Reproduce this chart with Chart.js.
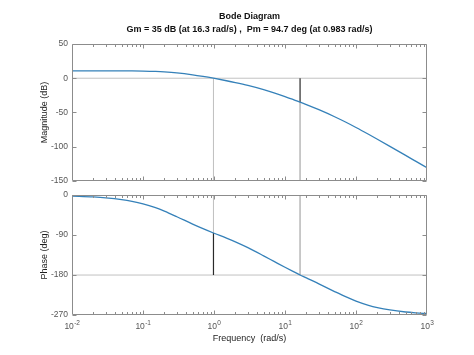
<!DOCTYPE html>
<html><head><meta charset="utf-8">
<script src="https://cdn.jsdelivr.net/npm/chart.js@4.4.1/dist/chart.umd.min.js"></script>
<style>
html,body{margin:0;padding:0;background:#fff;}
#wrap{position:relative;width:474px;height:355px;overflow:hidden;background:#fff;}
canvas{position:absolute;left:0;}
#c1{top:0;}
#c2{top:186px;}
</style></head><body>
<div id="wrap">
<canvas id="c1" width="474" height="190"></canvas>
<canvas id="c2" width="474" height="169"></canvas>
</div>
<script>
// ---- data ----
const freqs = [0.01,0.02,0.03,0.05,0.07,0.1,0.15,0.2,0.3,0.5,0.7,0.983,1.5,2,3,5,7,10,15,16.3,20,30,50,70,100,150,200,300,500,700,1000];
const magnitudeDb = [10.85,10.84,10.81,10.74,10.63,10.40,9.89,9.26,7.83,5.04,2.68,0,-3.67,-6.37,-10.53,-16.64,-21.29,-26.74,-33.43,-35,-38.47,-45.96,-56.24,-63.63,-71.97,-81.93,-89.20,-99.59,-112.80,-121.55,-130.83];
const phaseDeg = [-2.03,-4.06,-6.09,-10.09,-14.01,-19.68,-28.44,-36.19,-48.75,-65.27,-75.50,-85.3,-96.95,-105.35,-118.38,-136.76,-149.26,-162.5,-177.0,-180,-186.3,-199.8,-217.2,-228.2,-238.6,-248.1,-253.3,-258.7,-263.2,-265.1,-266.6];
const gmFreq = 16.3, gmDb = -35;
const pmFreq = 0.983, pmPhase = -85.3;
const freqTicks = [0.01,0.1,1,10,100,1000];
const freqTickBase = '10';
const freqTickExp = ['-2','-1','0','1','2','3'];
const magTicks = [50,0,-50,-100,-150];
const phaseTicks = [0,-90,-180,-270];
const titleLines = ['Bode Diagram','Gm = 35 dB (at 16.3 rad/s) ,  Pm = 94.7 deg (at 0.983 rad/s)'];

// ---- style ----
const FONT = '"Liberation Sans", Arial, Helvetica, sans-serif';
const lineColor = '#3581b9';
const axisColor = '#8c8c8c';
const refGray = '#c2c2c2';
const stemColor = '#2a2a2a';
const tickColor = '#555555';
const labelColor = '#1e1e1e';

const frame = {
  id: 'frame',
  afterDraw(chart, args, opts) {
    const {ctx, chartArea: a, scales: {x, y}} = chart;
    const L = Math.round(a.left) + 0.5, R = Math.round(a.right) - 0.5;
    const T = Math.round(a.top) + 0.5, B = Math.round(a.bottom) - 0.5;
    ctx.save();
    ctx.strokeStyle = axisColor;
    ctx.lineWidth = 1;
    ctx.beginPath();
    ctx.rect(L, T, R - L, B - T);
    for (let e = -2; e <= 2; e++) {
      for (let m = 1; m <= 9; m++) {
        if (e === -2 && m === 1) continue;
        const px = Math.round(x.getPixelForValue(m * Math.pow(10, e))) + 0.5;
        const len = m === 1 ? 4 : 2.5;
        ctx.moveTo(px, T); ctx.lineTo(px, T + len);
        ctx.moveTo(px, B); ctx.lineTo(px, B - len);
      }
    }
    y.ticks.forEach(t => {
      const py = Math.round(y.getPixelForValue(t.value)) + 0.5;
      ctx.moveTo(L, py); ctx.lineTo(L + 4, py);
      ctx.moveTo(R, py); ctx.lineTo(R - 4, py);
    });
    ctx.stroke();
    if (opts && opts.decadeLabels) {
      // decade labels: "10" with a raised exponent
      ctx.fillStyle = tickColor;
      ctx.textBaseline = 'alphabetic';
      ctx.textAlign = 'left';
      freqTicks.forEach((v, i) => {
        const px = x.getPixelForValue(v);
        ctx.font = '8.5px ' + FONT;
        const wb = ctx.measureText(freqTickBase).width;
        ctx.font = '6.5px ' + FONT;
        const we = ctx.measureText(freqTickExp[i]).width;
        const start = px - (wb + we) / 2;
        ctx.font = '8.5px ' + FONT;
        ctx.fillText(freqTickBase, start, a.bottom + 14);
        ctx.font = '6.5px ' + FONT;
        ctx.fillText(freqTickExp[i], start + wb + 0.3, a.bottom + 9.6);
      });
    }
    ctx.restore();
  }
};

function seg(x1, y1, x2, y2) { return [{x: x1, y: y1}, {x: x2, y: y2}]; }
function lineDs(data, color, width) {
  return {data, borderColor: color, borderWidth: width, pointRadius: 0, fill: false, tension: 0};
}

function xScale(showLabels, titleText) {
  return {
    type: 'logarithmic', min: freqTicks[0], max: freqTicks[freqTicks.length - 1],
    afterBuildTicks: s => { s.ticks = freqTicks.map(v => ({value: v})); },
    afterFit: s => { s.height = showLabels ? 40 : 0; },
    grid: {display: false, drawTicks: false},
    border: {display: false},
    ticks: {display: false},
    title: {display: !!titleText, text: titleText || '', color: labelColor,
      font: {family: FONT, size: 9}, padding: {top: 0, bottom: 11}}
  };
}
function yScale(min, max, ticks, titleText) {
  return {
    min, max,
    afterBuildTicks: s => { s.ticks = ticks.map(v => ({value: v})); },
    afterFit: s => { s.width = 72; },
    grid: {display: false, drawTicks: false},
    border: {display: false},
    ticks: {padding: 4, color: tickColor, font: {family: FONT, size: 8.5}},
    title: {display: true, text: titleText, color: labelColor,
      font: {family: FONT, size: 9}, padding: {top: 39, bottom: 0}}
  };
}
const common = {
  responsive: false, animation: false, devicePixelRatio: 1,
  events: []
};

const magData = freqs.map((f, i) => ({x: f, y: magnitudeDb[i]}));
const phaseData = freqs.map((f, i) => ({x: f, y: phaseDeg[i]}));

new Chart(document.getElementById('c1'), {
  type: 'line',
  data: {datasets: [
    Object.assign(lineDs(magData, lineColor, 1.3), {cubicInterpolationMode: 'monotone'}),
    lineDs(seg(gmFreq, 0, gmFreq, gmDb), stemColor, 1.2),
    lineDs(seg(gmFreq, gmDb, gmFreq, magTicks[magTicks.length - 1]), refGray, 1),
    lineDs(seg(pmFreq, 0, pmFreq, magTicks[magTicks.length - 1]), refGray, 1),
    lineDs(seg(freqTicks[0], 0, freqTicks[freqTicks.length - 1], 0), refGray, 1)
  ]},
  options: Object.assign({}, common, {
    layout: {padding: {left: 0, right: 47, top: 0, bottom: 8}},
    scales: {x: xScale(false), y: yScale(-150, 50, magTicks, 'Magnitude (dB)')},
    plugins: {
      legend: {display: false}, tooltip: {enabled: false},
      frame: {decadeLabels: false},
      title: {display: true, fullSize: false, text: titleLines, color: '#111',
        font: {family: FONT, size: 9, weight: 'bold', lineHeight: 1.45},
        padding: {top: 10, bottom: 7.9}}
    }
  }),
  plugins: [frame]
});

new Chart(document.getElementById('c2'), {
  type: 'line',
  data: {datasets: [
    Object.assign(lineDs(phaseData, lineColor, 1.3), {cubicInterpolationMode: 'monotone'}),
    lineDs(seg(pmFreq, -180, pmFreq, pmPhase), stemColor, 1.2),
    lineDs(seg(pmFreq, 0, pmFreq, pmPhase), refGray, 1),
    lineDs(seg(gmFreq, 0, gmFreq, -180), refGray, 1),
    lineDs(seg(freqTicks[0], -180, freqTicks[freqTicks.length - 1], -180), refGray, 1)
  ]},
  options: Object.assign({}, common, {
    layout: {padding: {left: 0, right: 47, top: 7, bottom: 0}},
    scales: {x: xScale(true, 'Frequency  (rad/s)'), y: yScale(-270, 0, phaseTicks, 'Phase (deg)')},
    plugins: {legend: {display: false}, tooltip: {enabled: false}, frame: {decadeLabels: true}}
  }),
  plugins: [frame]
});
</script>
</body></html>
